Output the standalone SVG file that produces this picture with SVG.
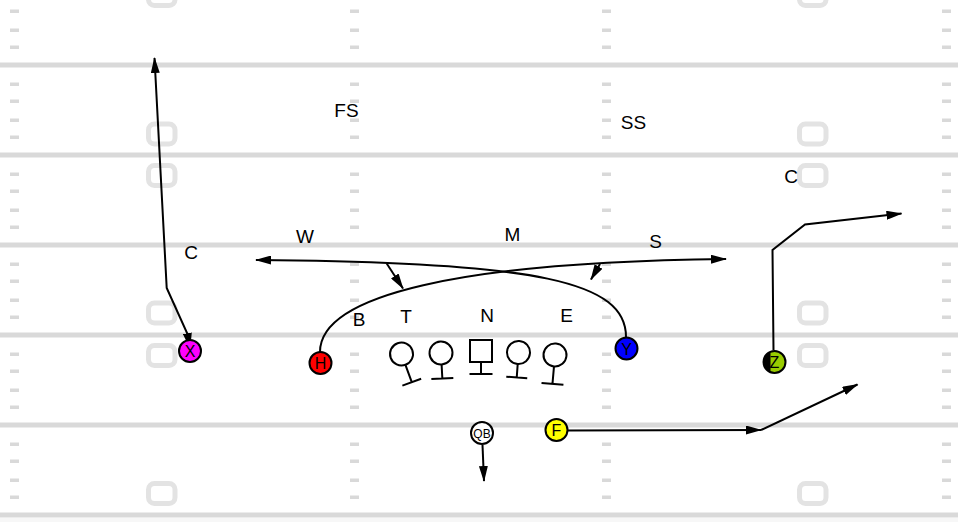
<svg xmlns="http://www.w3.org/2000/svg" xmlns:xlink="http://www.w3.org/1999/xlink" width="958" height="522" viewBox="0 0 958 522">
<style>
.yard{fill:#d9d9d9}
.hash{fill:#d9d9d9}
.num{fill:none;stroke:#e3e3e3;stroke-width:5}
.lbl{font-family:"Liberation Sans",Arial,sans-serif;font-size:19px;fill:#000;text-anchor:middle}
.plbl{font-family:"Liberation Sans",Arial,sans-serif;font-size:16px;fill:#000;text-anchor:middle}
.pl{stroke:#000;stroke-width:2}
.ol{fill:#fff;stroke:#000;stroke-width:2}
.route{fill:none;stroke:#000;stroke-width:2}
</style>
<defs>
<marker id="ah" viewBox="0 0 16 9" refX="15" refY="4.5" markerWidth="16" markerHeight="9" markerUnits="userSpaceOnUse" orient="auto-start-reverse"><path d="M0,0 L16,4.5 L0,9 z" fill="#000"/></marker>
<g id="hashcol">
<rect class="hash" x="0" y="9.5" width="9" height="3.5"/>
<rect class="hash" x="0" y="28.5" width="9" height="3.5"/>
<rect class="hash" x="0" y="45.5" width="9" height="3.5"/>
<rect class="hash" x="0" y="82.5" width="9" height="3.5"/>
<rect class="hash" x="0" y="99.5" width="9" height="3.5"/>
<rect class="hash" x="0" y="118.5" width="9" height="3.5"/>
<rect class="hash" x="0" y="135.5" width="9" height="3.5"/>
<rect class="hash" x="0" y="172.5" width="9" height="3.5"/>
<rect class="hash" x="0" y="189.5" width="9" height="3.5"/>
<rect class="hash" x="0" y="208.5" width="9" height="3.5"/>
<rect class="hash" x="0" y="225.5" width="9" height="3.5"/>
<rect class="hash" x="0" y="262.5" width="9" height="3.5"/>
<rect class="hash" x="0" y="279.5" width="9" height="3.5"/>
<rect class="hash" x="0" y="298.5" width="9" height="3.5"/>
<rect class="hash" x="0" y="315.5" width="9" height="3.5"/>
<rect class="hash" x="0" y="352.5" width="9" height="3.5"/>
<rect class="hash" x="0" y="369.5" width="9" height="3.5"/>
<rect class="hash" x="0" y="388.5" width="9" height="3.5"/>
<rect class="hash" x="0" y="405.5" width="9" height="3.5"/>
<rect class="hash" x="0" y="442.5" width="9" height="3.5"/>
<rect class="hash" x="0" y="459.5" width="9" height="3.5"/>
<rect class="hash" x="0" y="478.5" width="9" height="3.5"/>
<rect class="hash" x="0" y="495.5" width="9" height="3.5"/>
</g>
<g id="numcol">
<rect class="num" x="0" y="-14.5" width="26.5" height="20" rx="6"/>
<rect class="num" x="0" y="124" width="26.5" height="20" rx="6"/>
<rect class="num" x="0" y="165.5" width="26.5" height="20" rx="6"/>
<rect class="num" x="0" y="303" width="26.5" height="20" rx="6"/>
<rect class="num" x="0" y="345.5" width="26.5" height="20" rx="6"/>
<rect class="num" x="0" y="483.5" width="26.5" height="20" rx="6"/>
</g>
<clipPath id="zleft"><rect x="740" y="340" width="30.5" height="50"/></clipPath>
</defs>
<rect width="958" height="522" fill="#fff"/>
<rect y="518" width="958" height="4" fill="#f7f7f7"/>
<g id="field">
<rect class="yard" x="0" y="62.5" width="958" height="5"/>
<rect class="yard" x="0" y="152.5" width="958" height="5"/>
<rect class="yard" x="0" y="242.5" width="958" height="5"/>
<rect class="yard" x="0" y="332.5" width="958" height="5"/>
<rect class="yard" x="0" y="422.5" width="958" height="5"/>
<rect class="yard" x="0" y="512.5" width="958" height="5"/>
<use xlink:href="#hashcol" x="10"/>
<use xlink:href="#hashcol" x="350"/>
<use xlink:href="#hashcol" x="602"/>
<use xlink:href="#hashcol" x="942"/>
<use xlink:href="#numcol" x="148.5"/>
<use xlink:href="#numcol" x="799.5"/>
</g>
<g id="defense">
<text class="lbl" x="346.5" y="117">FS</text>
<text class="lbl" x="633.5" y="129">SS</text>
<text class="lbl" x="791" y="183">C</text>
<text class="lbl" x="191" y="259">C</text>
<text class="lbl" x="305" y="243">W</text>
<text class="lbl" x="512.5" y="241">M</text>
<text class="lbl" x="655.5" y="248">S</text>
<text class="lbl" x="359" y="326">B</text>
<text class="lbl" x="406" y="322.5">T</text>
<text class="lbl" x="487" y="321.5">N</text>
<text class="lbl" x="566.5" y="322">E</text>
</g>
<g id="connectors">
<path class="route" d="M154.5,58 L166.7,288 L187.5,334 L190,348" marker-start="url(#ah)" marker-end="url(#ah)"/>
<path class="route" d="M320,352 C320,295 460,262 726,259" marker-end="url(#ah)"/>
<path class="route" d="M626,337 C626,282 540,262 256,260" marker-end="url(#ah)"/>
<path class="route" d="M386.7,263.5 L403,288.5" marker-end="url(#ah)"/>
<path class="route" d="M600,264 L591,279.5" marker-end="url(#ah)"/>
<path class="route" d="M773.5,350 L772.5,250 L805,224.5 L901.5,213.5" marker-end="url(#ah)"/>
<path class="route" d="M567,430.5 L761,430" marker-end="url(#ah)"/>
<path class="route" d="M761,430 L857.5,384.5" marker-end="url(#ah)"/>
<path class="route" d="M482.5,445 L484,481" marker-end="url(#ah)"/>
</g>
<g id="node-X"><circle class="pl" cx="190" cy="351" r="11" fill="#ff00ff"/><text class="plbl" x="190" y="357">X</text></g>
<g id="node-H"><circle class="pl" cx="320.5" cy="363" r="11" fill="#ff0000"/><text class="plbl" x="320.5" y="369">H</text></g>
<g id="node-Y"><circle class="pl" cx="626.5" cy="348.5" r="11" fill="#0000ff"/><text class="plbl" x="626.5" y="354.5">Y</text></g>
<g id="node-Z"><circle cx="774.5" cy="362" r="11" fill="#99cc00"/><circle cx="774.5" cy="362" r="11" fill="#000" clip-path="url(#zleft)"/><circle cx="774.5" cy="362" r="11" fill="none" class="pl"/><text class="plbl" x="774.5" y="368">Z</text></g>
<g id="node-F"><circle class="pl" cx="556.5" cy="430" r="11" fill="#ffff00"/><text class="plbl" x="556.5" y="436">F</text></g>
<g id="node-QB"><circle class="ol" cx="482" cy="433" r="11"/><text class="plbl" x="482" y="437.5" style="font-size:12px">QB</text></g>
<g id="node-T1" transform="translate(401.5,354) rotate(-20)"><circle class="ol" cx="0" cy="0" r="11.5"/><path class="pl" d="M0,11.5 V30 M-10,30 H10"/></g>
<g id="node-T2" transform="translate(441,353) rotate(-3)"><circle class="ol" cx="0" cy="0" r="11.5"/><path class="pl" d="M0,11.5 V25.5 M-11,25.5 H11"/></g>
<g id="node-C" transform="translate(481,351)"><rect class="ol" x="-11" y="-11" width="22" height="22"/><path class="pl" d="M0,11 V23 M-11.5,23 H11.5"/></g>
<g id="node-G2" transform="translate(518.5,352.5) rotate(4)"><circle class="ol" cx="0" cy="0" r="11.5"/><path class="pl" d="M0,11.5 V25 M-10.5,25 H10.5"/></g>
<g id="node-T3" transform="translate(555,355) rotate(5)"><circle class="ol" cx="0" cy="0" r="11.5"/><path class="pl" d="M0,11.5 V29 M-11,29 H11"/></g>
</svg>
